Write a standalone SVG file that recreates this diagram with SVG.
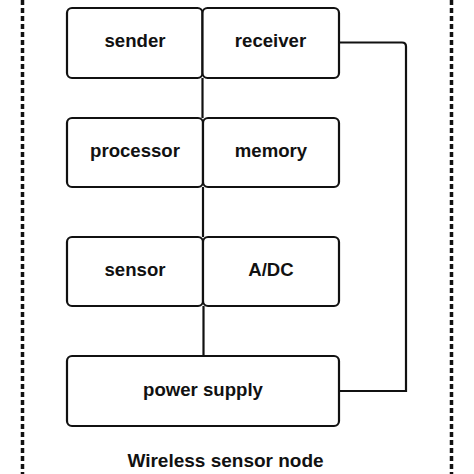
<svg xmlns="http://www.w3.org/2000/svg" width="474" height="474" viewBox="0 0 474 474">
<style>
.box{fill:#fff;stroke:#111;stroke-width:2.2}
.lbl{font-family:"Liberation Sans",Arial,sans-serif;font-weight:bold;font-size:18.6px;fill:#111;text-anchor:middle}
.con{fill:none;stroke:#111;stroke-width:2.2}
.border{stroke:#111;stroke-width:3.5;stroke-dasharray:5 3}
</style>
<rect width="474" height="474" fill="#fff"/>
<g id="border">
<line class="border" x1="22.5" y1="0" x2="22.5" y2="474"/>
<line class="border" x1="451.5" y1="0" x2="451.5" y2="474"/>
</g>
<g id="connectors">
<line class="con" x1="202.5" y1="78" x2="202.5" y2="118"/>
<line class="con" x1="203" y1="187" x2="203" y2="237"/>
<line class="con" x1="203.5" y1="306" x2="203.5" y2="356"/>
<path class="con" d="M339 42.5 H402 Q406 42.5 406 46.5 V392 M339 391 H406"/>
</g>
<g id="sender"><rect class="box" x="67" y="8" width="135.5" height="70" rx="5"/><text class="lbl" x="135" y="47">sender</text></g>
<g id="receiver"><rect class="box" x="202.5" y="8" width="136.5" height="70" rx="5"/><text class="lbl" x="270.5" y="47">receiver</text></g>
<g id="processor"><rect class="box" x="67" y="118" width="136" height="69" rx="5"/><text class="lbl" x="135" y="157">processor</text></g>
<g id="memory"><rect class="box" x="203" y="118" width="136" height="69" rx="5"/><text class="lbl" x="271" y="157">memory</text></g>
<g id="sensor"><rect class="box" x="67" y="237" width="136" height="69" rx="5"/><text class="lbl" x="135" y="276">sensor</text></g>
<g id="adc"><rect class="box" x="203" y="237" width="136" height="69" rx="5"/><text class="lbl" x="271" y="276">A/DC</text></g>
<g id="power"><rect class="box" x="67" y="356" width="272" height="70" rx="5"/><text class="lbl" x="203" y="396">power supply</text></g>
<text class="lbl" x="225.5" y="467" style="font-size:19px">Wireless sensor node</text>
</svg>
